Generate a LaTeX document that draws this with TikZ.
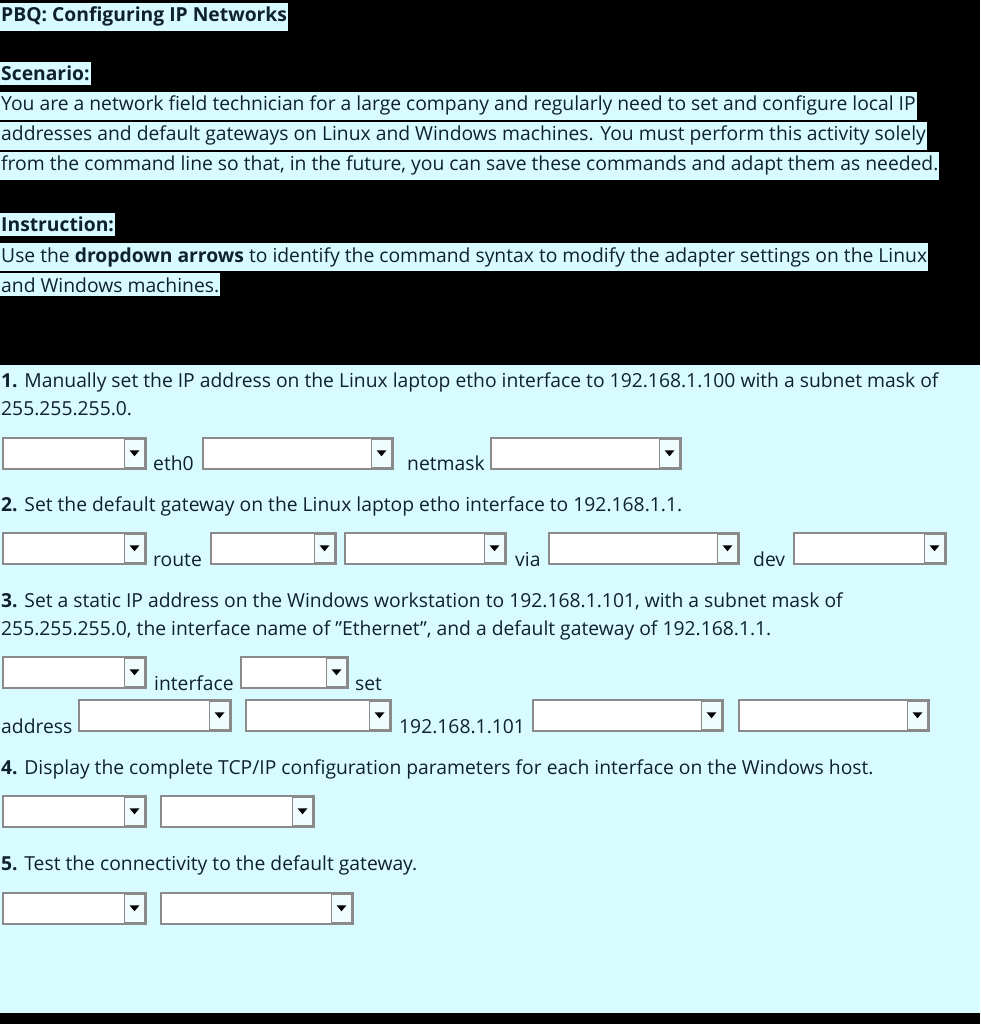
\documentclass[tikz,border=0pt]{standalone}
\usepackage{fontspec}
\setmainfont{Open Sans}
\usetikzlibrary{calc}
\definecolor{hl}{HTML}{D8FBFF}
\definecolor{ink}{HTML}{0F2030}
\definecolor{edge}{HTML}{8A8A8A}
\tikzset{x=1pt,y=-1pt,
 txt/.style={anchor=base west,inner sep=1pt,text=ink,font=\fontsize{19.3}{22}\selectfont},
 hltxt/.style={txt,fill=hl,inner ysep=4pt},
 lbl/.style={txt},
 ddbox/.style={draw=edge,line width=1.5pt,fill=white,anchor=north west,inner sep=0pt,minimum height=31pt},
 btn/.style={draw=edge,line width=1pt,fill=hl!40!white},
}
\newcommand\ddbox[4]{%
 \node[ddbox,minimum width={#3pt-#2pt}] (#1) at (#2,#4) {};
 \draw[btn] ($(#1.north east)+(-22,2)$) rectangle ($(#1.south east)+(-2,-2)$);
 \fill[black] ($(#1.east)+(-17,-3)$) -- ($(#1.east)+(-7,-3)$) -- ($(#1.east)+(-12,3)$) -- cycle;}
\begin{document}
\begin{tikzpicture}
\fill[black] (0,0) rectangle (980,1024);
\useasboundingbox (0,0) rectangle (980,1024);
\fill[hl] (0,365) rectangle (980,1013);
\node[hltxt] (t) at (0,22) {\textbf{PBQ: Configuring IP Networks}};
\node[hltxt] (s) at (0,81) {\textbf{Scenario:}};
\node[hltxt] (s1) at (0,111) {You are a network field technician for a large company and regularly need to set and configure local IP};
\node[hltxt] (s2) at (0,141) {addresses and default gateways on Linux and Windows machines. You must perform this activity solely};
\node[hltxt] (s3) at (0,171) {from the command line so that, in the future, you can save these commands and adapt them as needed.};
\node[hltxt] (i) at (0,232) {\textbf{Instruction:}};
\node[hltxt] (i1) at (0,262) {Use the \textbf{dropdown arrows} to identify the command syntax to modify the adapter settings on the Linux};
\node[hltxt] (i2) at (0,292) {and Windows machines.};
\node[txt] (q1) at (0,387) {\textbf{1.} Manually set the IP address on the Linux laptop etho interface to 192.168.1.100 with a subnet mask of};
\node[txt] (q1b) at (0,415) {255.255.255.0.};
\ddbox{a1}{2}{145}{437}
\node[lbl] (l1) at (152,470) {eth0};
\ddbox{a2}{202}{392}{437}
\node[lbl] (l2) at (406,470) {netmask};
\ddbox{a3}{490}{680}{437}
\node[txt] (q2) at (0,511) {\textbf{2.} Set the default gateway on the Linux laptop etho interface to 192.168.1.1.};
\ddbox{b1}{2}{145}{532}
\node[lbl] (l3) at (152,566) {route};
\ddbox{b2}{210}{335}{532}
\ddbox{b3}{344}{505}{532}
\node[lbl] (l4) at (514,566) {via};
\ddbox{b4}{548}{738}{532}
\node[lbl] (l5) at (752,566) {dev};
\ddbox{b5}{793}{945}{532}
\node[txt] (q3) at (0,607) {\textbf{3.} Set a static IP address on the Windows workstation to 192.168.1.101, with a subnet mask of};
\node[txt] (q3b) at (0,635) {255.255.255.0, the interface name of \symbol{34}Ethernet\symbol{34}, and a default gateway of 192.168.1.1.};
\ddbox{c1}{2}{145}{656}
\node[lbl] (l6) at (153,690) {interface};
\ddbox{c2}{240}{347}{656}
\node[lbl] (l7) at (354,690) {set};
\node[lbl] (l8) at (0,733) {address};
\ddbox{c3}{78}{230}{699}
\ddbox{c4}{245}{390}{699}
\node[lbl] (l9) at (398,733) {192.168.1.101};
\ddbox{c5}{532}{722}{699}
\ddbox{c6}{738}{928}{699}
\node[txt] (q4) at (0,774) {\textbf{4.} Display the complete TCP/IP configuration parameters for each interface on the Windows host.};
\ddbox{d1}{2}{145}{795}
\ddbox{d2}{160}{313}{795}
\node[txt] (q5) at (0,870) {\textbf{5.} Test the connectivity to the default gateway.};
\ddbox{e1}{2}{145}{892}
\ddbox{e2}{160}{352}{892}
\end{tikzpicture}
\end{document}
